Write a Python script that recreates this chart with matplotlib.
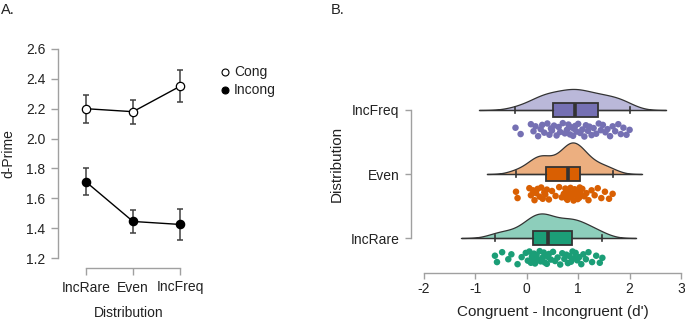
import numpy as np
import matplotlib
matplotlib.use("Agg")
import matplotlib.pyplot as plt
from matplotlib.lines import Line2D

plt.rcParams['font.family'] = ['Liberation Sans', 'DejaVu Sans']

# ---------------- Panel A data ----------------
distributions = ["IncRare", "Even", "IncFreq"]
cong_mean = [2.20, 2.18, 2.35]
cong_lo = [2.105, 2.10, 2.245]
cong_hi = [2.29, 2.26, 2.46]
incong_mean = [1.71, 1.445, 1.425]
incong_lo = [1.62, 1.365, 1.32]
incong_hi = [1.80, 1.52, 1.53]
legend_labels = ["Cong", "Incong"]

# ---------------- Panel B data (Congruent - Incongruent d') ----------------
diff_incrare = [-0.62, -0.58, -0.48, -0.36, -0.30, -0.18, -0.10, -0.02, 0.02, 0.05,
                0.08, 0.10, 0.12, 0.14, 0.16, 0.19, 0.22, 0.25, 0.27, 0.30,
                0.33, 0.35, 0.37, 0.39, 0.41, 0.43, 0.47, 0.51, 0.55, 0.60,
                0.65, 0.69, 0.73, 0.77, 0.80, 0.83, 0.86, 0.89, 0.92, 0.95,
                0.98, 1.02, 1.06, 1.10, 1.15, 1.20, 1.27, 1.35, 1.42, 1.47]
diff_even = [-0.21, -0.18, 0.05, 0.08, 0.12, 0.15, 0.18, 0.21, 0.25, 0.28,
             0.31, 0.34, 0.36, 0.39, 0.43, 0.49, 0.56, 0.63, 0.68, 0.72,
             0.75, 0.77, 0.78, 0.79, 0.80, 0.81, 0.83, 0.85, 0.87, 0.89,
             0.91, 0.93, 0.95, 0.97, 0.99, 1.01, 1.02, 1.03, 1.05, 1.08,
             1.12, 1.16, 1.20, 1.26, 1.32, 1.38, 1.45, 1.52, 1.60, 1.67]
diff_incfreq = [-0.22, -0.12, 0.08, 0.13, 0.17, 0.22, 0.27, 0.30, 0.34, 0.40,
                0.44, 0.47, 0.49, 0.53, 0.58, 0.62, 0.65, 0.70, 0.74, 0.78,
                0.81, 0.84, 0.87, 0.90, 0.92, 0.94, 0.97, 1.00, 1.04, 1.08,
                1.12, 1.15, 1.19, 1.22, 1.26, 1.30, 1.35, 1.40, 1.44, 1.48,
                1.53, 1.57, 1.62, 1.67, 1.72, 1.78, 1.83, 1.88, 1.94, 2.00]
group_names = ["IncRare", "Even", "IncFreq"]
group_data = [diff_incrare, diff_even, diff_incfreq]

# ---------------- styles ----------------
box_colors = ["#1B9E77", "#D95F02", "#7570B3"]
dens_colors = ["#8DCEBB", "#ECAF80", "#BAB8D9"]
JITTER = [0.3, -0.6, 0.8, -0.2, 0.5, -0.9, 0.1, 0.7, -0.4, 0.9,
          -0.7, 0.2, -0.1, 0.6, -0.8, 0.4, -0.3, 0.95, -0.5, 0.0,
          0.75, -0.65, 0.35, -0.85, 0.15, 0.55, -0.25, 0.85, -0.45, 0.05,
          -0.95, 0.65, -0.15, 0.45, -0.75, 0.25, -0.55, 0.9, -0.05, 0.7,
          -0.35, 0.1, -0.9, 0.5, -0.2, 0.8, -0.6, 0.3, -0.7, 0.0]
SPINE = "#A0A0A0"
TXT = "#222222"

W, H = 685, 322
fig = plt.figure(figsize=(W / 100, H / 100), dpi=100)


def fx(px):
    return px / W


def fy(py):
    return 1 - py / H


# ================= Panel A =================
axA = fig.add_axes([fx(58), fy(268), fx(200 - 58), (268 - 40) / H])
x = np.arange(1, len(distributions) + 1)
for mean, lo, hi, fc in [(cong_mean, cong_lo, cong_hi, "white"),
                         (incong_mean, incong_lo, incong_hi, "black")]:
    mean = np.array(mean)
    yerr = np.vstack([mean - np.array(lo), np.array(hi) - mean])
    axA.errorbar(x, mean, yerr=yerr, fmt="none", ecolor="#404040",
                 elinewidth=1.1, capsize=2.2, capthick=1.1, zorder=2)
    axA.plot(x, mean, color="black", lw=1.0, marker="o", ms=6,
             mfc=fc, mec="black", mew=0.9, zorder=3)

axA.set_xlim(1 - 28 / 47, 1 + (200 - 86) / 47)
axA.set_ylim(1.2 - 10 / 150, 2.6 + 9 / 150)
axA.set_xticks(x)
axA.set_xticklabels(distributions)
axA.set_yticks([1.2, 1.4, 1.6, 1.8, 2.0, 2.2, 2.4, 2.6])
axA.set_yticklabels(["1.2", "1.4", "1.6", "1.8", "2.0", "2.2", "2.4", "2.6"])
for s in ["top", "right"]:
    axA.spines[s].set_visible(False)
axA.spines["left"].set_bounds(1.2, 2.6)
axA.spines["bottom"].set_bounds(1, 3)
for s in ["left", "bottom"]:
    axA.spines[s].set_color(SPINE)
    axA.spines[s].set_linewidth(1.0)
axA.tick_params(axis="both", colors=SPINE, labelcolor=TXT, labelsize=10,
                length=5, width=1.0)
axA.tick_params(axis="y", pad=4)
axA.tick_params(axis="x", pad=4)
axA.set_xlabel("Distribution", fontsize=10, color=TXT, labelpad=8)
axA.set_ylabel("d-Prime", fontsize=10, color=TXT, labelpad=8)

# legend (manual, figure coordinates)
for i, (lab, fc) in enumerate(zip(legend_labels, ["white", "black"])):
    yy = fy(72 + 18 * i)
    fig.add_artist(Line2D([fx(225)], [yy], marker="o", ms=5, mfc=fc, mec="black",
                          mew=0.8, ls="none", transform=fig.transFigure))
    fig.text(fx(234), yy, lab, fontsize=10, color=TXT, va="center", ha="left")

fig.text(fx(1), fy(10), "A.", fontsize=10.5, color=TXT, va="center", ha="left")
fig.text(fx(331), fy(10), "B.", fontsize=10.5, color=TXT, va="center", ha="left")

# ================= Panel B =================
axB = fig.add_axes([fx(424), fy(273), fx(681 - 424), (273 - 55) / H])
DENS_SCALE = 0.56
POINT_OFFSET = 0.31
JIT_W = 0.11
for i, (vals, bc, dc) in enumerate(zip(group_data, box_colors, dens_colors)):
    pos = i + 1
    v = np.array(vals)
    n = len(v)
    iqr = np.subtract(*np.percentile(v, [75, 25]))
    bw = 0.9 * min(v.std(ddof=1), iqr / 1.34) * n ** (-0.2)
    grid = np.linspace(v.min() - 3 * bw, v.max() + 3 * bw, 400)
    dens = np.exp(-0.5 * ((grid[:, None] - v[None, :]) / bw) ** 2).sum(axis=1)
    dens /= n * bw * np.sqrt(2 * np.pi)
    axB.fill_between(grid, pos, pos + dens * DENS_SCALE, facecolor=dc,
                     edgecolor="#333333", linewidth=0.9, zorder=1)
    axB.plot([grid[0], grid[-1]], [pos, pos], color="#333333", lw=0.9, zorder=1.5)
    axB.scatter(v, pos - POINT_OFFSET + JIT_W * np.array(JITTER[:n]), s=22,
                color=bc, edgecolor="none", zorder=2)
    axB.boxplot([v], positions=[pos], widths=0.22, orientation="horizontal",
                patch_artist=True, showfliers=False, capwidths=0.09,
                boxprops=dict(facecolor=bc, edgecolor="#333333", linewidth=1.3),
                medianprops=dict(color="#333333", linewidth=2.6),
                whiskerprops=dict(color="#333333", linewidth=0.9),
                capprops=dict(color="#333333", linewidth=1.2),
                manage_ticks=False, zorder=3)

axB.set_xlim(-2, 3)
axB.set_ylim(1 - (273 - 238) / 64, 3 + (110 - 55) / 64)
axB.set_xticks([-2, -1, 0, 1, 2, 3])
axB.set_xticklabels(["-2", "-1", "0", "1", "2", "3"])
axB.set_yticks([1, 2, 3])
axB.set_yticklabels(group_names)
for s in ["top", "right"]:
    axB.spines[s].set_visible(False)
axB.spines["left"].set_bounds(1, 3)
axB.spines["left"].set_position(("outward", 13 * 0.72))
axB.spines["bottom"].set_bounds(-2, 3)
for s in ["left", "bottom"]:
    axB.spines[s].set_color(SPINE)
    axB.spines[s].set_linewidth(1.0)
axB.tick_params(axis="both", colors=SPINE, labelcolor=TXT, labelsize=10,
                length=4.3, width=1.0)
axB.tick_params(axis="y", pad=4)
axB.tick_params(axis="x", pad=2)
axB.set_xlabel("Congruent - Incongruent (d')", fontsize=11, color=TXT, labelpad=7)
axB.set_ylabel("Distribution", fontsize=11, color=TXT, labelpad=5)

fig.savefig("out.png", dpi=100)
